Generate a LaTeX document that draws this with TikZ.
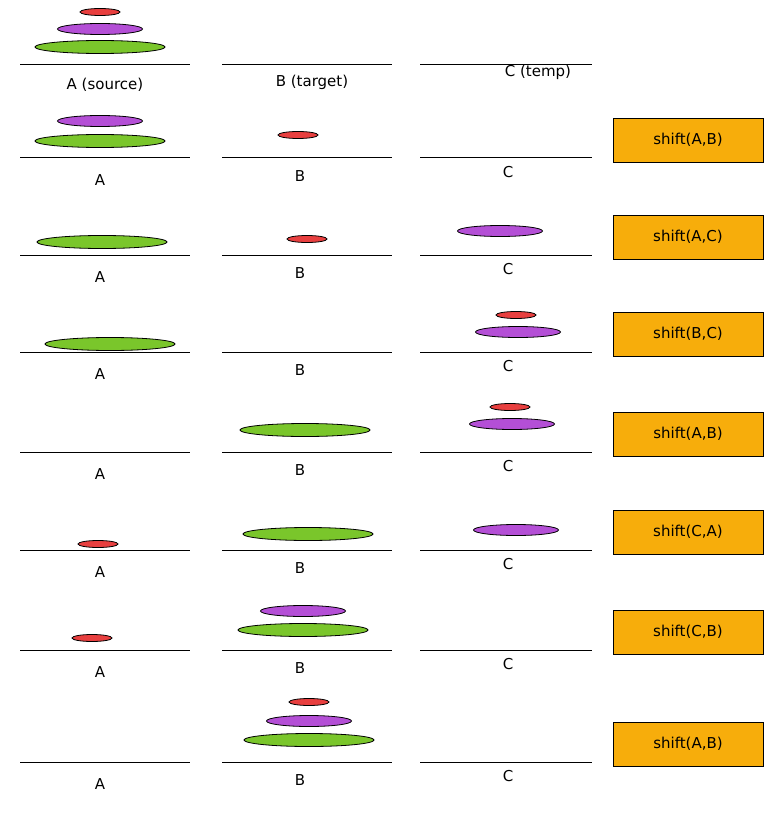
\documentclass[tikz,border=0pt]{standalone}
\usepackage{fontspec}
\setmainfont{DejaVu Sans}
\usetikzlibrary{shapes.geometric}
\definecolor{diskgreen}{HTML}{7AC62B}
\definecolor{diskpurple}{HTML}{B44FD6}
\definecolor{diskred}{HTML}{E83F3F}
\definecolor{boxorange}{HTML}{F7AD0B}
\tikzset{
  peg/.style={line width=1pt},
  disk/.style={ellipse, draw=black, line width=0.8pt, inner sep=0pt},
  big/.style={disk, fill=diskgreen, minimum width=130pt, minimum height=13pt},
  mid/.style={disk, fill=diskpurple, minimum width=85pt, minimum height=11pt},
  small/.style={disk, fill=diskred, minimum width=40pt, minimum height=7pt},
  peglabel/.style={font=\fontsize{15}{18}\selectfont},
  movebox/.style={draw=black, line width=0.8pt, fill=boxorange, minimum width=150pt, minimum height=44pt, font=\fontsize{15}{18}\selectfont}
}
\begin{document}
\begin{tikzpicture}[x=1pt,y=-1pt]
    \useasboundingbox (0,0) rectangle (778,821);

    % Pegs and labels
    \foreach \r/\y in {1/65,2/158,3/255,4/352,5/452,6/550,7/650,8/762} {
        \draw [peg] (20,\y) -- (190,\y);
        \draw [peg] (222,\y) -- (392,\y);
        \draw [peg] (420,\y) -- (592,\y);
    }
    \node [peglabel] (la1) at (105,85) {A (source)};
    \node [peglabel] (lb1) at (312,82) {B (target)};
    \node [peglabel] (lc1) at (538,72) {C (temp)};
    \foreach \r/\y in {2/158,3/255,4/352,5/452,6/550,7/650,8/762} {
        \node [peglabel] (la\r) at (100,\y+22) {A};
        \node [peglabel] (lb\r) at (300,\y+18) {B};
        \node [peglabel] (lc\r) at (508,\y+14) {C};
    }

    % Moves
    \foreach \r/\y/\m in {2/158/{shift(A,B)},3/255/{shift(A,C)},4/352/{shift(B,C)},
                          5/452/{shift(A,B)},6/550/{shift(C,A)},7/650/{shift(C,B)},8/762/{shift(A,B)}} {
        \node [movebox] (m\r) at (688,\y-18) {\m};
    }

    % Row 1
    \node [big] (g1) at (100,47) {};
    \node [mid] (p1) at (100,29) {};
    \node [small] (s1) at (100,12) {};
    % Row 2
    \node [big] (g2) at (100,141) {};
    \node [mid] (p2) at (100,121) {};
    \node [small] (s2) at (298,135) {};
    % Row 3
    \node [big] (g3) at (102,242) {};
    \node [small] (s3) at (307,239) {};
    \node [mid] (p3) at (500,231) {};
    % Row 4
    \node [big] (g4) at (110,344) {};
    \node [mid] (p4) at (518,332) {};
    \node [small] (s4) at (516,315) {};
    % Row 5
    \node [big] (g5) at (305,430) {};
    \node [mid] (p5) at (512,424) {};
    \node [small] (s5) at (510,407) {};
    % Row 6
    \node [small] (s6) at (98,544) {};
    \node [big] (g6) at (308,534) {};
    \node [mid] (p6) at (516,530) {};
    % Row 7
    \node [small] (s7) at (92,638) {};
    \node [big] (g7) at (303,630) {};
    \node [mid] (p7) at (303,611) {};
    % Row 8
    \node [big] (g8) at (309,740) {};
    \node [mid] (p8) at (309,721) {};
    \node [small] (s8) at (309,702) {};
\end{tikzpicture}
\end{document}
